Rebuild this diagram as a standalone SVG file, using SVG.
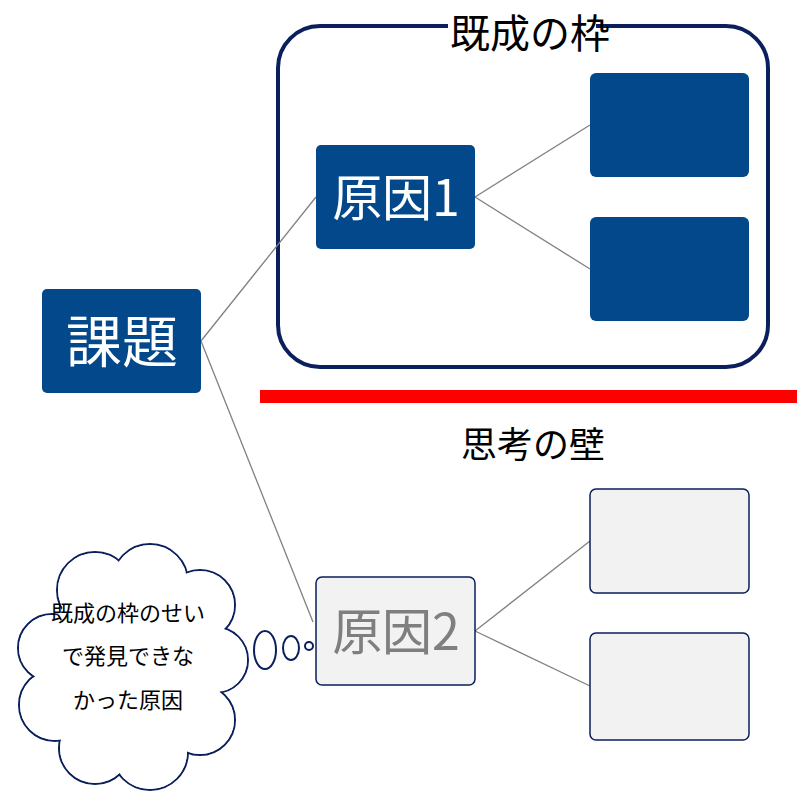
<svg xmlns="http://www.w3.org/2000/svg" width="808" height="808" viewBox="0 0 808 808">
<style>
.t{font-family:"Noto Sans CJK JP","Liberation Sans",sans-serif;text-anchor:middle}
.blue{fill:#02488a}
.grey{fill:#f2f2f2;stroke:#0a1f5c;stroke-width:1.5}
.c{stroke:#808080;stroke-width:1.3;fill:none}
.cl{fill:#fff;stroke:#0a1f5c;stroke-width:2}
.cf{fill:#fff}
</style>
<rect width="808" height="808" fill="#fff"/>
<g id="frame">
<rect x="278" y="26" width="490" height="341" rx="42" fill="none" stroke="#0a1f5c" stroke-width="4"/>
<rect x="448" y="10" width="148" height="30" fill="#fff"/>
<text class="t" x="530" y="48" font-size="40">既成の枠</text>
</g>
<g id="wall">
<rect x="260" y="390" width="537" height="13" fill="#ff0000"/>
<text class="t" x="533" y="458" font-size="36">思考の壁</text>
</g>
<g id="connectors">
<line class="c" x1="201" y1="341" x2="316" y2="197"/>
<line class="c" x1="201" y1="341" x2="313" y2="622"/>
<line class="c" x1="475" y1="197" x2="590" y2="125"/>
<line class="c" x1="475" y1="197" x2="590" y2="269"/>
<line class="c" x1="475" y1="631" x2="590" y2="541"/>
<line class="c" x1="475" y1="631" x2="590" y2="686"/>
</g>
<g id="kadai"><rect class="blue" x="42" y="289" width="159" height="104" rx="5"/><text class="t" x="122" y="362" font-size="56" fill="#fff">課題</text></g>
<g id="gen1"><rect class="blue" x="316" y="145" width="159" height="104" rx="5"/><text class="t" x="396" y="216" font-size="50" fill="#fff">原因1</text></g>
<g id="b1"><rect class="blue" x="590" y="73" width="159" height="104" rx="6"/></g>
<g id="b2"><rect class="blue" x="590" y="217" width="159" height="104" rx="6"/></g>
<g id="gen2"><rect class="grey" x="316" y="577" width="159" height="108" rx="6"/><text class="t" x="396" y="650" font-size="50" fill="#7f7f7f">原因2</text></g>
<g id="b3"><rect class="grey" x="590" y="489" width="159" height="104" rx="6"/></g>
<g id="b4"><rect class="grey" x="590" y="633" width="159" height="107" rx="6"/></g>
<g id="cloud">
<g class="cl">
<circle cx="95" cy="590" r="38"/><circle cx="150" cy="582" r="38"/><circle cx="200" cy="605" r="35"/>
<circle cx="215" cy="660" r="33"/><circle cx="200" cy="720" r="35"/><circle cx="150" cy="752" r="38"/>
<circle cx="95" cy="748" r="36"/><circle cx="55" cy="705" r="36"/><circle cx="52" cy="648" r="34"/>
</g>
<g class="cf">
<circle cx="95" cy="590" r="37"/><circle cx="150" cy="582" r="37"/><circle cx="200" cy="605" r="34"/>
<circle cx="215" cy="660" r="32"/><circle cx="200" cy="720" r="34"/><circle cx="150" cy="752" r="37"/>
<circle cx="95" cy="748" r="35"/><circle cx="55" cy="705" r="35"/><circle cx="52" cy="648" r="33"/>
<ellipse cx="133" cy="667" rx="90" ry="95"/>
</g>
<text class="t" font-size="22" fill="#000"><tspan x="128" y="621">既成の枠のせい</tspan><tspan x="128" y="664">で発見できな</tspan><tspan x="128" y="708">かった原因</tspan></text>
<ellipse cx="265" cy="650" rx="11" ry="19" class="cl"/>
<ellipse cx="291" cy="648" rx="8" ry="12" class="cl"/>
<circle cx="309" cy="646" r="4" class="cl"/>
</g>
</svg>
